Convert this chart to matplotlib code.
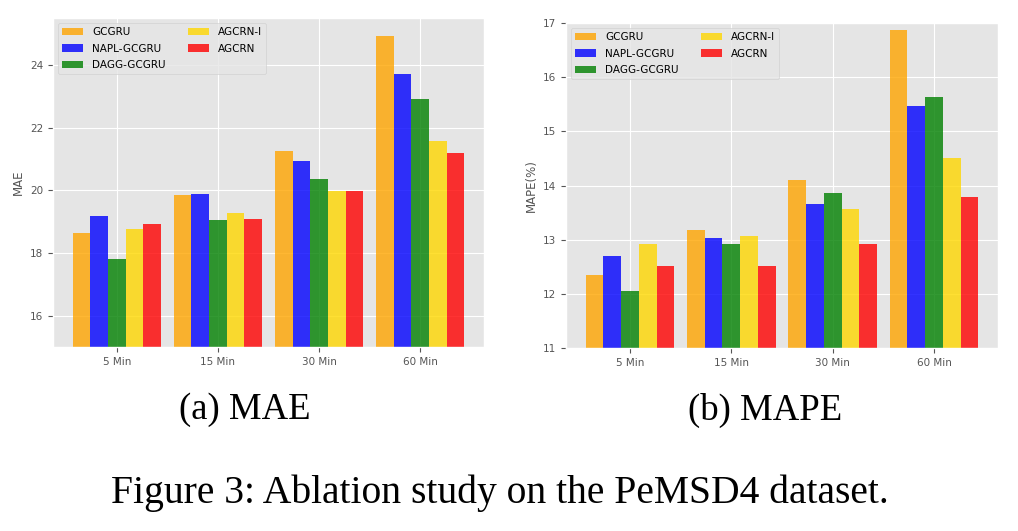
import numpy as np
import matplotlib
matplotlib.use("Agg")
import matplotlib.pyplot as plt

# horizons and models
horizons = ["5 Min", "15 Min", "30 Min", "60 Min"]
models = ["GCGRU", "NAPL-GCGRU", "DAGG-GCGRU", "AGCRN-I", "AGCRN"]
colors = ["orange", "blue", "green", "gold", "red"]

# MAE values per model (one value per horizon)
mae_gcgru = [18.63, 19.85, 21.27, 24.94]
mae_napl = [19.18, 19.89, 20.93, 23.70]
mae_dagg = [17.81, 19.06, 20.36, 22.90]
mae_agcrn_i = [18.76, 19.28, 19.99, 21.59]
mae_agcrn = [18.94, 19.08, 19.97, 21.20]

# MAPE values (%)
mape_gcgru = [12.35, 13.17, 14.11, 16.87]
mape_napl = [12.70, 13.04, 13.65, 15.47]
mape_dagg = [12.05, 12.92, 13.86, 15.64]
mape_agcrn_i = [12.92, 13.06, 13.56, 14.50]
mape_agcrn = [12.52, 12.52, 12.92, 13.78]

plt.style.use("ggplot")

fig = plt.figure(figsize=(10.18, 5.31), dpi=100)
ax1 = fig.add_axes([53 / 1018, 1 - 347 / 531, 431 / 1018, 329 / 531])
ax2 = fig.add_axes([566 / 1018, 1 - 348 / 531, 432 / 1018, 325 / 531])

x = np.arange(len(horizons))
width = 0.175


def draw(ax, series, ylabel, ylim):
	for i, (vals, name, c) in enumerate(zip(series, models, colors)):
		ax.bar(x + (i - 2) * width, vals, width, color=c, alpha=0.8, label=name)
	ax.set_xticks(x)
	ax.set_xticklabels(horizons)
	ax.set_ylim(*ylim)
	ax.set_ylabel(ylabel, fontsize=8.5, color="#555555")
	ax.tick_params(labelsize=7.5, colors="#555555")
	ax.legend(ncol=2, loc="upper left", fontsize=7.5, handlelength=2.0,
			  handletextpad=0.85, columnspacing=2.2, labelspacing=0.6)


draw(ax1, [mae_gcgru, mae_napl, mae_dagg, mae_agcrn_i, mae_agcrn], "MAE", (15, 25.5))
ax1.set_yticks([16, 18, 20, 22, 24])
draw(ax2, [mape_gcgru, mape_napl, mape_dagg, mape_agcrn_i, mape_agcrn], "MAPE(%)", (11, 17))

serif = ["Liberation Serif", "DejaVu Serif"]
fig.text(245 / 1018, 1 - 410 / 531, "(a) MAE", ha="center", va="center",
		 family=serif, fontsize=26.5, color="black")
fig.text(765 / 1018, 1 - 410 / 531, "(b) MAPE", ha="center", va="center",
		 family=serif, fontsize=26.5, color="black")
fig.text(500 / 1018, 1 - 493 / 531, "Figure 3: Ablation study on the PeMSD4 dataset.",
		 ha="center", va="center", family=serif, fontsize=28.5, color="black")

fig.savefig("out.png", dpi=100, facecolor="white")
